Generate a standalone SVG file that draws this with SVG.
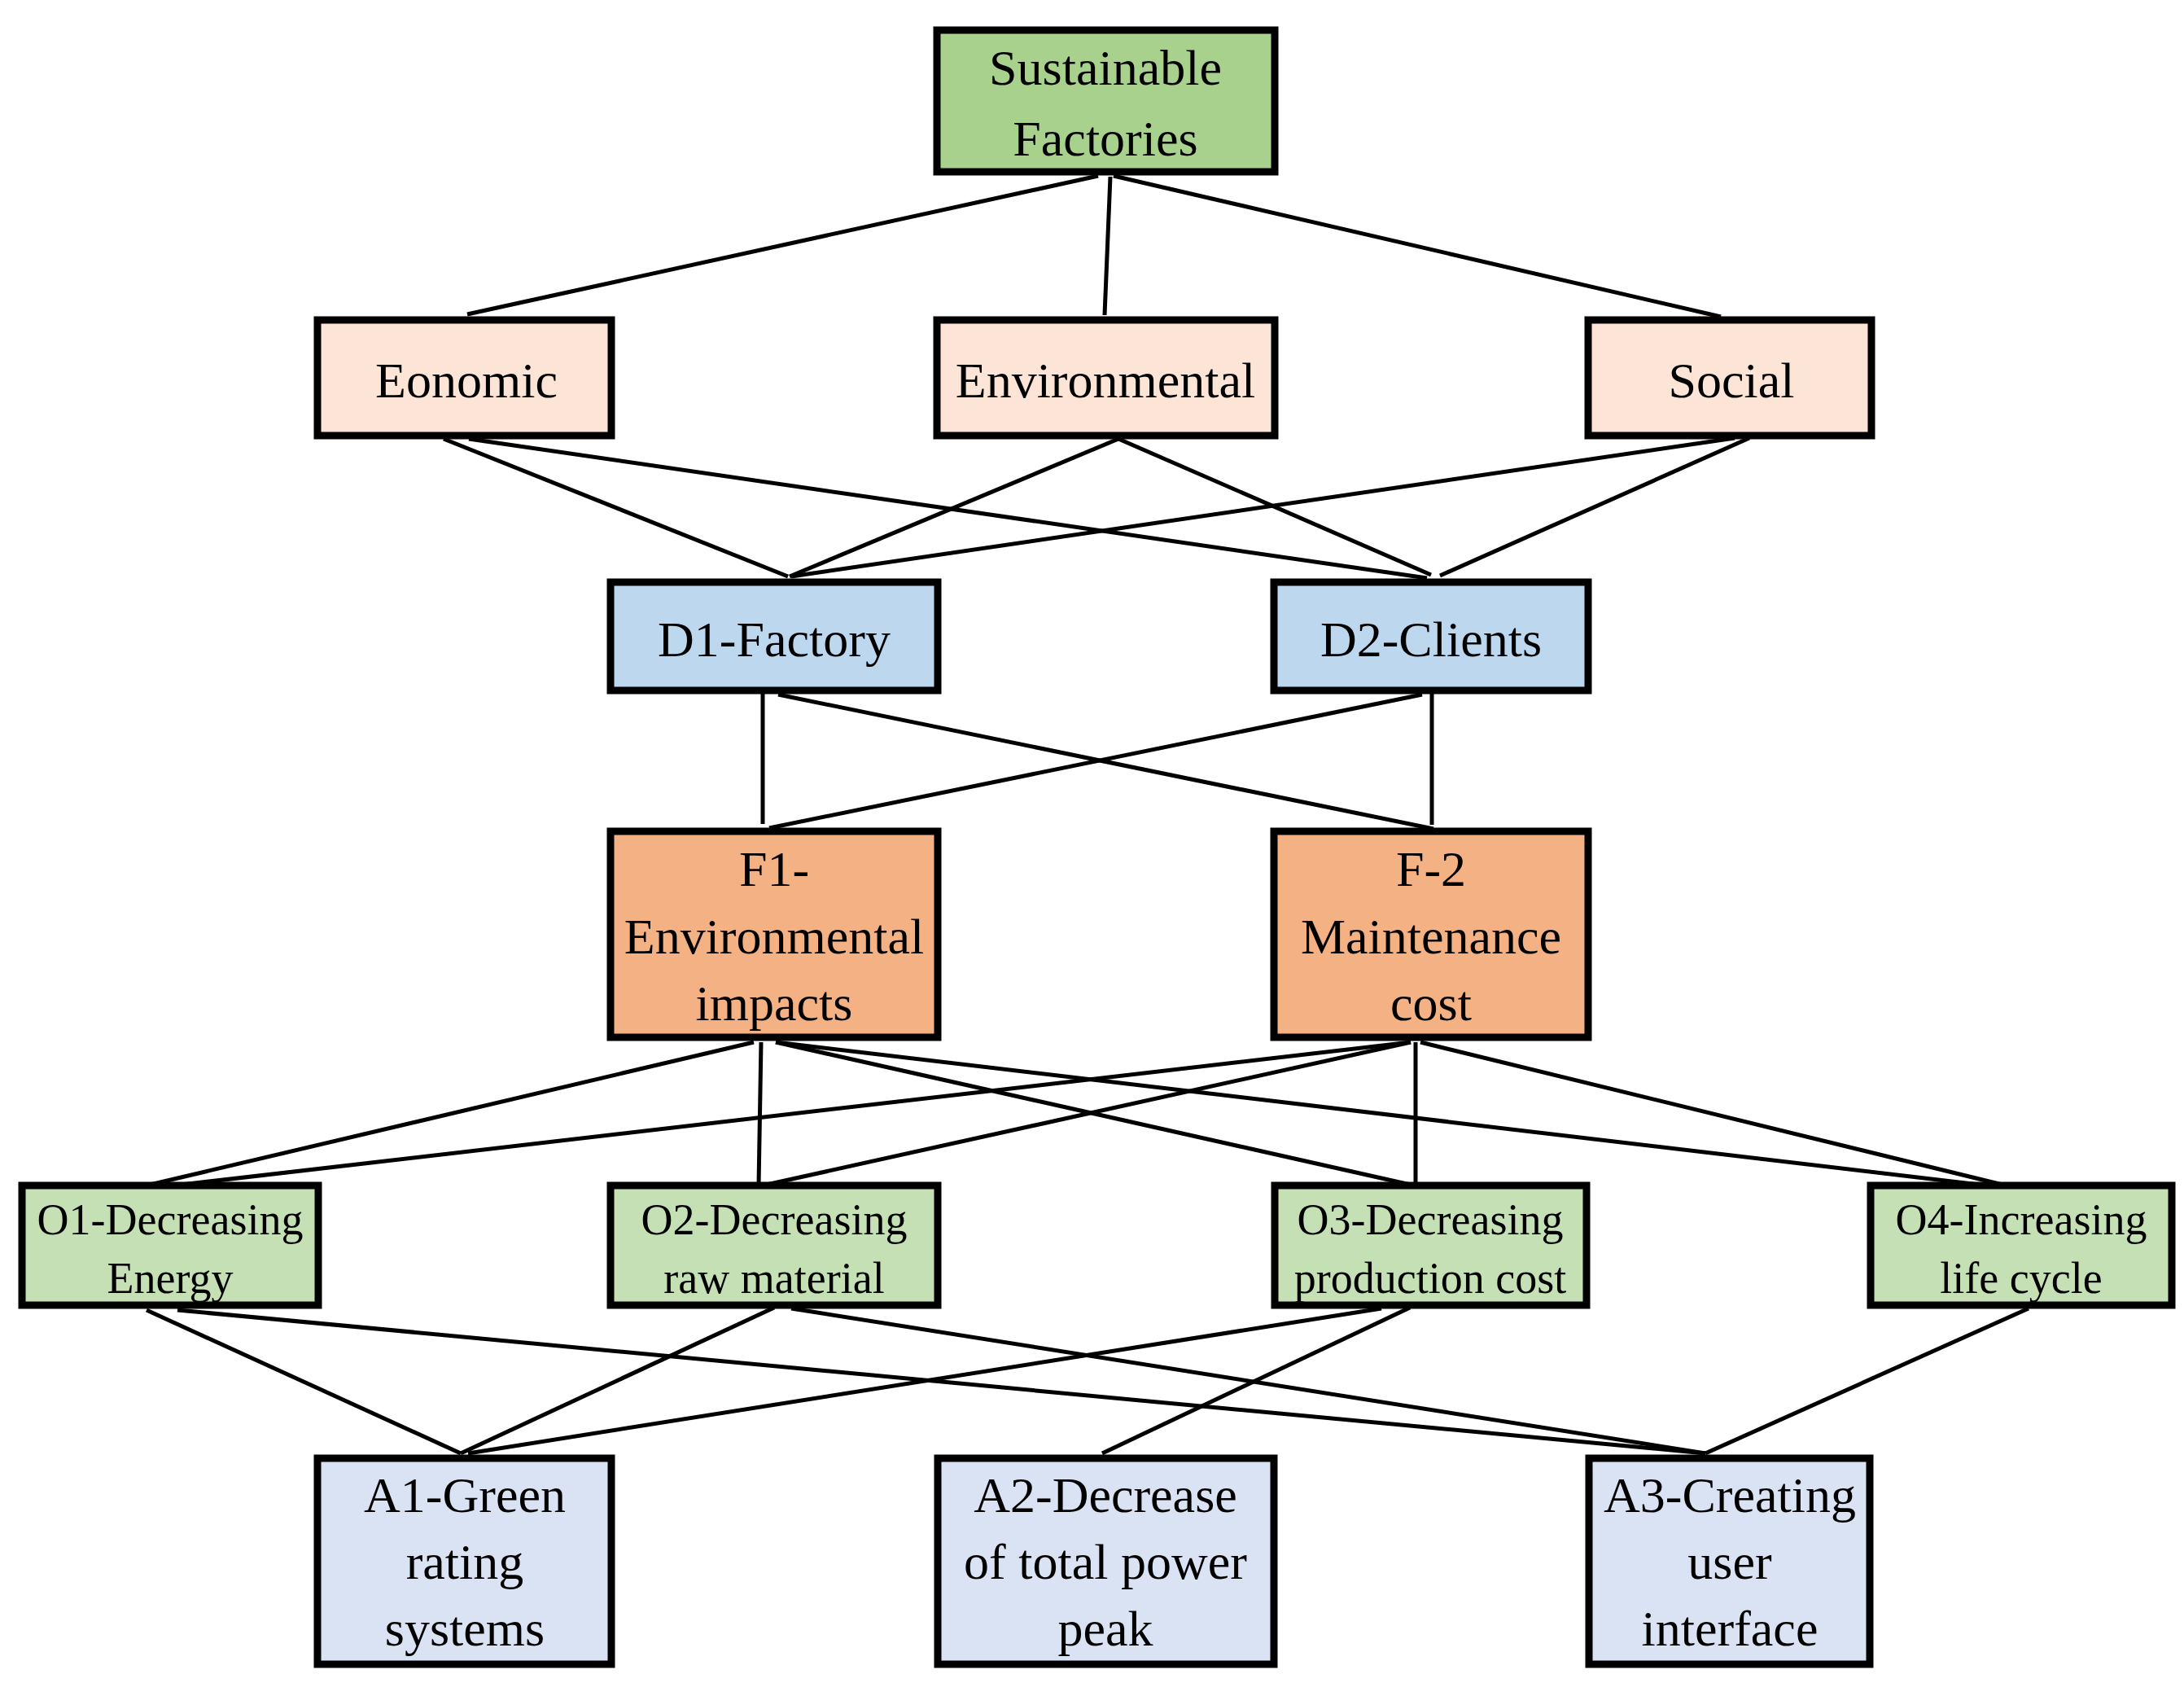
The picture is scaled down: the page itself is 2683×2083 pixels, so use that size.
<svg xmlns="http://www.w3.org/2000/svg" width="2683" height="2083" viewBox="0 0 2683 2083">
<style>
.box{stroke:#000;stroke-width:9}
.sf{fill:#A9D18E}
.p{fill:#FCE4D6}
.d{fill:#BDD7EE}
.f{fill:#F4B183}
.o{fill:#C5E0B4}
.a{fill:#DAE3F3}
.t{font-family:"Liberation Serif","Times New Roman",serif;font-size:62px;fill:#000;text-anchor:middle}
.ts{font-family:"Liberation Serif","Times New Roman",serif;font-size:54px;fill:#000;text-anchor:middle}
.c line{stroke:#000;stroke-width:5;fill:none}
</style>
<rect width="2683" height="2083" fill="#fff"/>
<g id="connectors" class="c">
<line x1="1349" y1="216" x2="574" y2="386"/>
<line x1="1364" y1="217" x2="1357" y2="387"/>
<line x1="1368" y1="216" x2="2114" y2="389"/>
<line x1="545" y1="539" x2="968" y2="708"/>
<line x1="576" y1="539" x2="1753" y2="710"/>
<line x1="1374" y1="539" x2="970" y2="708"/>
<line x1="1374" y1="539" x2="1758" y2="706"/>
<line x1="2131" y1="538" x2="972" y2="708"/>
<line x1="2149" y1="538" x2="1769" y2="707"/>
<line x1="937" y1="852" x2="937" y2="1012"/>
<line x1="956" y1="853" x2="1761" y2="1018"/>
<line x1="1747" y1="853" x2="945" y2="1017"/>
<line x1="1759" y1="852" x2="1759" y2="1013"/>
<line x1="926" y1="1280" x2="180" y2="1456"/>
<line x1="935" y1="1280" x2="932" y2="1456"/>
<line x1="953" y1="1280" x2="1737" y2="1456"/>
<line x1="953" y1="1280" x2="2440" y2="1456"/>
<line x1="1733" y1="1280" x2="214" y2="1456"/>
<line x1="1733" y1="1280" x2="937" y2="1456"/>
<line x1="1739" y1="1280" x2="1739" y2="1456"/>
<line x1="1745" y1="1280" x2="2464" y2="1456"/>
<line x1="180" y1="1609" x2="566" y2="1785"/>
<line x1="218" y1="1609" x2="2095" y2="1785"/>
<line x1="951" y1="1606" x2="566" y2="1785"/>
<line x1="972" y1="1607" x2="2095" y2="1785"/>
<line x1="1697" y1="1607" x2="575" y2="1785"/>
<line x1="1732" y1="1606" x2="1354" y2="1785"/>
<line x1="2492" y1="1607" x2="2095" y2="1785"/>
</g>
<g id="sustainable-factories">
<rect class="box sf" x="1151" y="37" width="415" height="174"/>
<text class="t" x="1358" y="104">Sustainable</text>
<text class="t" x="1358" y="191">Factories</text>
</g>
<g id="economic">
<rect class="box p" x="390" y="393" width="361" height="142"/>
<text class="t" x="573" y="488">Eonomic</text>
</g>
<g id="environmental">
<rect class="box p" x="1151" y="393" width="415" height="142"/>
<text class="t" x="1358" y="488">Environmental</text>
</g>
<g id="social">
<rect class="box p" x="1951" y="393" width="348" height="142"/>
<text class="t" x="2127" y="488">Social</text>
</g>
<g id="d1">
<rect class="box d" x="750" y="715" width="402" height="133"/>
<text class="t" x="951" y="806">D1-Factory</text>
</g>
<g id="d2">
<rect class="box d" x="1565" y="715" width="386" height="133"/>
<text class="t" x="1758" y="806">D2-Clients</text>
</g>
<g id="f1">
<rect class="box f" x="750" y="1021" width="402" height="253"/>
<text class="t" x="951" y="1088">F1-</text>
<text class="t" x="951" y="1171">Environmental</text>
<text class="t" x="951" y="1253">impacts</text>
</g>
<g id="f2">
<rect class="box f" x="1565" y="1021" width="386" height="253"/>
<text class="t" x="1758" y="1088">F-2</text>
<text class="t" x="1758" y="1171">Maintenance</text>
<text class="t" x="1758" y="1253">cost</text>
</g>
<g id="o1">
<rect class="box o" x="27" y="1456" width="364" height="147"/>
<text class="ts" x="209" y="1516">O1-Decreasing</text>
<text class="ts" x="209" y="1588">Energy</text>
</g>
<g id="o2">
<rect class="box o" x="750" y="1456" width="402" height="147"/>
<text class="ts" x="951" y="1516">O2-Decreasing</text>
<text class="ts" x="951" y="1588">raw material</text>
</g>
<g id="o3">
<rect class="box o" x="1566" y="1456" width="383" height="147"/>
<text class="ts" x="1757" y="1516">O3-Decreasing</text>
<text class="ts" x="1757" y="1588">production cost</text>
</g>
<g id="o4">
<rect class="box o" x="2298" y="1456" width="370" height="147"/>
<text class="ts" x="2483" y="1516">O4-Increasing</text>
<text class="ts" x="2483" y="1588">life cycle</text>
</g>
<g id="a1">
<rect class="box a" x="390" y="1791" width="361" height="253"/>
<text class="t" x="571" y="1857">A1-Green</text>
<text class="t" x="571" y="1939">rating</text>
<text class="t" x="571" y="2021">systems</text>
</g>
<g id="a2">
<rect class="box a" x="1152" y="1791" width="413" height="253"/>
<text class="t" x="1358" y="1857">A2-Decrease</text>
<text class="t" x="1358" y="1939">of total power</text>
<text class="t" x="1358" y="2021">peak</text>
</g>
<g id="a3">
<rect class="box a" x="1952" y="1791" width="345" height="253"/>
<text class="t" x="2125" y="1857">A3-Creating</text>
<text class="t" x="2125" y="1939">user</text>
<text class="t" x="2125" y="2021">interface</text>
</g>
</svg>
